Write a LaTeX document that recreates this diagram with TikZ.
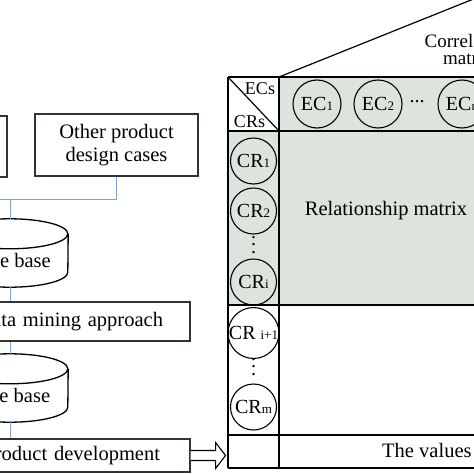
\documentclass[tikz,border=0pt]{standalone}
\usepackage{fontspec}
\setmainfont{Liberation Serif}
\definecolor{shadegray}{RGB}{221,227,221}
\definecolor{linkblue}{RGB}{125,165,210}
\definecolor{edgedark}{RGB}{55,48,48}
\newcommand\smtxt[1]{{\fontsize{13}{13}\selectfont #1}}
\newcommand\vdts{\vbox{\baselineskip=7.5pt\lineskiplimit=-20pt\hbox{.}\hbox{.}\hbox{.}}}
\begin{document}
\begin{tikzpicture}[x=1pt,y=-1pt,
  txt/.style={font=\fontsize{20.5}{23}\selectfont},
  box/.style={draw=edgedark, line width=1.1pt, inner sep=0pt, txt},
  bluelink/.style={draw=linkblue, line width=1pt},
  cylbody/.style={inner sep=0pt, minimum width=116pt, minimum height=68pt, txt, text height=30pt},
  cylline/.style={draw=black, line width=1.3pt},
  gridline/.style={draw=black, line width=1.2pt},
  circ/.style={circle, draw=black, line width=1.1pt, inner sep=0pt, font=\fontsize{20}{20}\selectfont},
  eccirc/.style={circ, minimum size=48pt},
  crcirc/.style={circ, minimum size=46pt},
  hollowarrow/.style={draw=black, line width=1.1pt, fill=white},
  small/.style={font=\fontsize{18}{18}\selectfont, inner sep=0pt}
]
\clip (0,0) rectangle (474,474);
\fill[white] (0,0) rectangle (474,474);

% ---------- left flow ----------
\node[box, minimum width=163pt, minimum height=61pt] (leftbox) at (-74.5,146.5) {};
\node[box, minimum width=163pt, minimum height=62pt, align=center] (other) at (116.5,145) {Other product\\design cases};
\coordinate (j) at (10,199);

\node[cylbody] (cyl1) at (10,253) {Case base};
\draw[cylline] ([yshift=-15pt]cyl1.north west) arc[start angle=180, end angle=-180, x radius=58pt, y radius=15pt]
  -- ([yshift=15pt]cyl1.south west) arc[start angle=180, end angle=360, x radius=58pt, y radius=15pt]
  -- ([yshift=-15pt]cyl1.north east);

\node[box, minimum width=360pt, minimum height=39pt, inner xsep=27pt, text width=306pt, align=right] (dm) at (10,321.5) {Data mining approach};

\node[cylbody] (cyl2) at (10,388) {Rule base};
\draw[cylline] ([yshift=-15pt]cyl2.north west) arc[start angle=180, end angle=-180, x radius=58pt, y radius=15pt]
  -- ([yshift=15pt]cyl2.south west) arc[start angle=180, end angle=360, x radius=58pt, y radius=15pt]
  -- ([yshift=-15pt]cyl2.north east);

\node[box, minimum width=360pt, minimum height=33pt, inner xsep=30pt, text width=300pt, align=right] (pd) at (10,455.5) {Product development};

\draw[bluelink] (other.south) |- (j);
\draw[bluelink] (leftbox.south) |- (j);
\draw[bluelink] (j) -- (cyl1.north);
\draw[bluelink] (cyl1.south) -- (dm.north);
\draw[bluelink] (dm.south) -- (cyl2.north);
\draw[bluelink] (cyl2.south) -- (pd.north);

\draw[hollowarrow] ([yshift=5pt]pd.east) -- ++(25pt,0) -- ++(0,8pt) -- ++(10pt,-13pt)
  -- ++(-10pt,-13pt) -- ++(0,8pt) -- ++(-25pt,0);

% ---------- matrix ----------
\fill[shadegray] (228,77) rectangle (490,305);
\fill[white] (228,77) rectangle (279,131);
\foreach \yy in {77,131,305,435,468} \draw[gridline] (228,\yy) -- (490,\yy);
\foreach \xx in {228,279} \draw[gridline] (\xx,77) -- (\xx,468);
\draw[gridline] (228,77) -- (279,131);
\draw[gridline] (279,77) -- (496,-10);

\node[small] (ecs) at (260,89) {ECs};
\node[small] (crs) at (249.5,122) {CRs};

\node[eccirc] (ec1) at (317,104) {EC\smtxt{1}};
\node[eccirc] (ec2) at (378,104) {EC\smtxt{2}};
\node[font=\fontsize{20}{20}\selectfont, inner sep=0pt] (ecd) at (417,104) {\raisebox{5pt}{...}};
\node[eccirc] (ecn) at (462,104) {EC\smtxt{n}};

\node[crcirc] (cr1) at (253.5,161) {CR\smtxt{1}};
\node[crcirc] (cr2) at (253.5,211) {CR\smtxt{2}};
\node[font=\fontsize{20}{20}\selectfont, inner sep=0pt] (crd1) at (253.5,245) {\vdts};
\node[crcirc] (cri) at (253.5,282) {CR\smtxt{i}};
\node[crcirc] (crip) at (253.5,333) {CR \smtxt{i+1}};
\node[font=\fontsize{20}{20}\selectfont, inner sep=0pt] (crd2) at (253.5,367) {\vdts};
\node[crcirc] (crm) at (253.5,407) {CR\smtxt{m}};

\node[txt] (rel) at (386,211) {Relationship matrix};
\node[txt, anchor=west, inner sep=0pt] (vals) at (382,450) {The values};
\node[font=\fontsize{19}{17}\selectfont, align=center, inner sep=0pt] (corr) at (468,49) {Correlation\\matrix};
\end{tikzpicture}
\end{document}
